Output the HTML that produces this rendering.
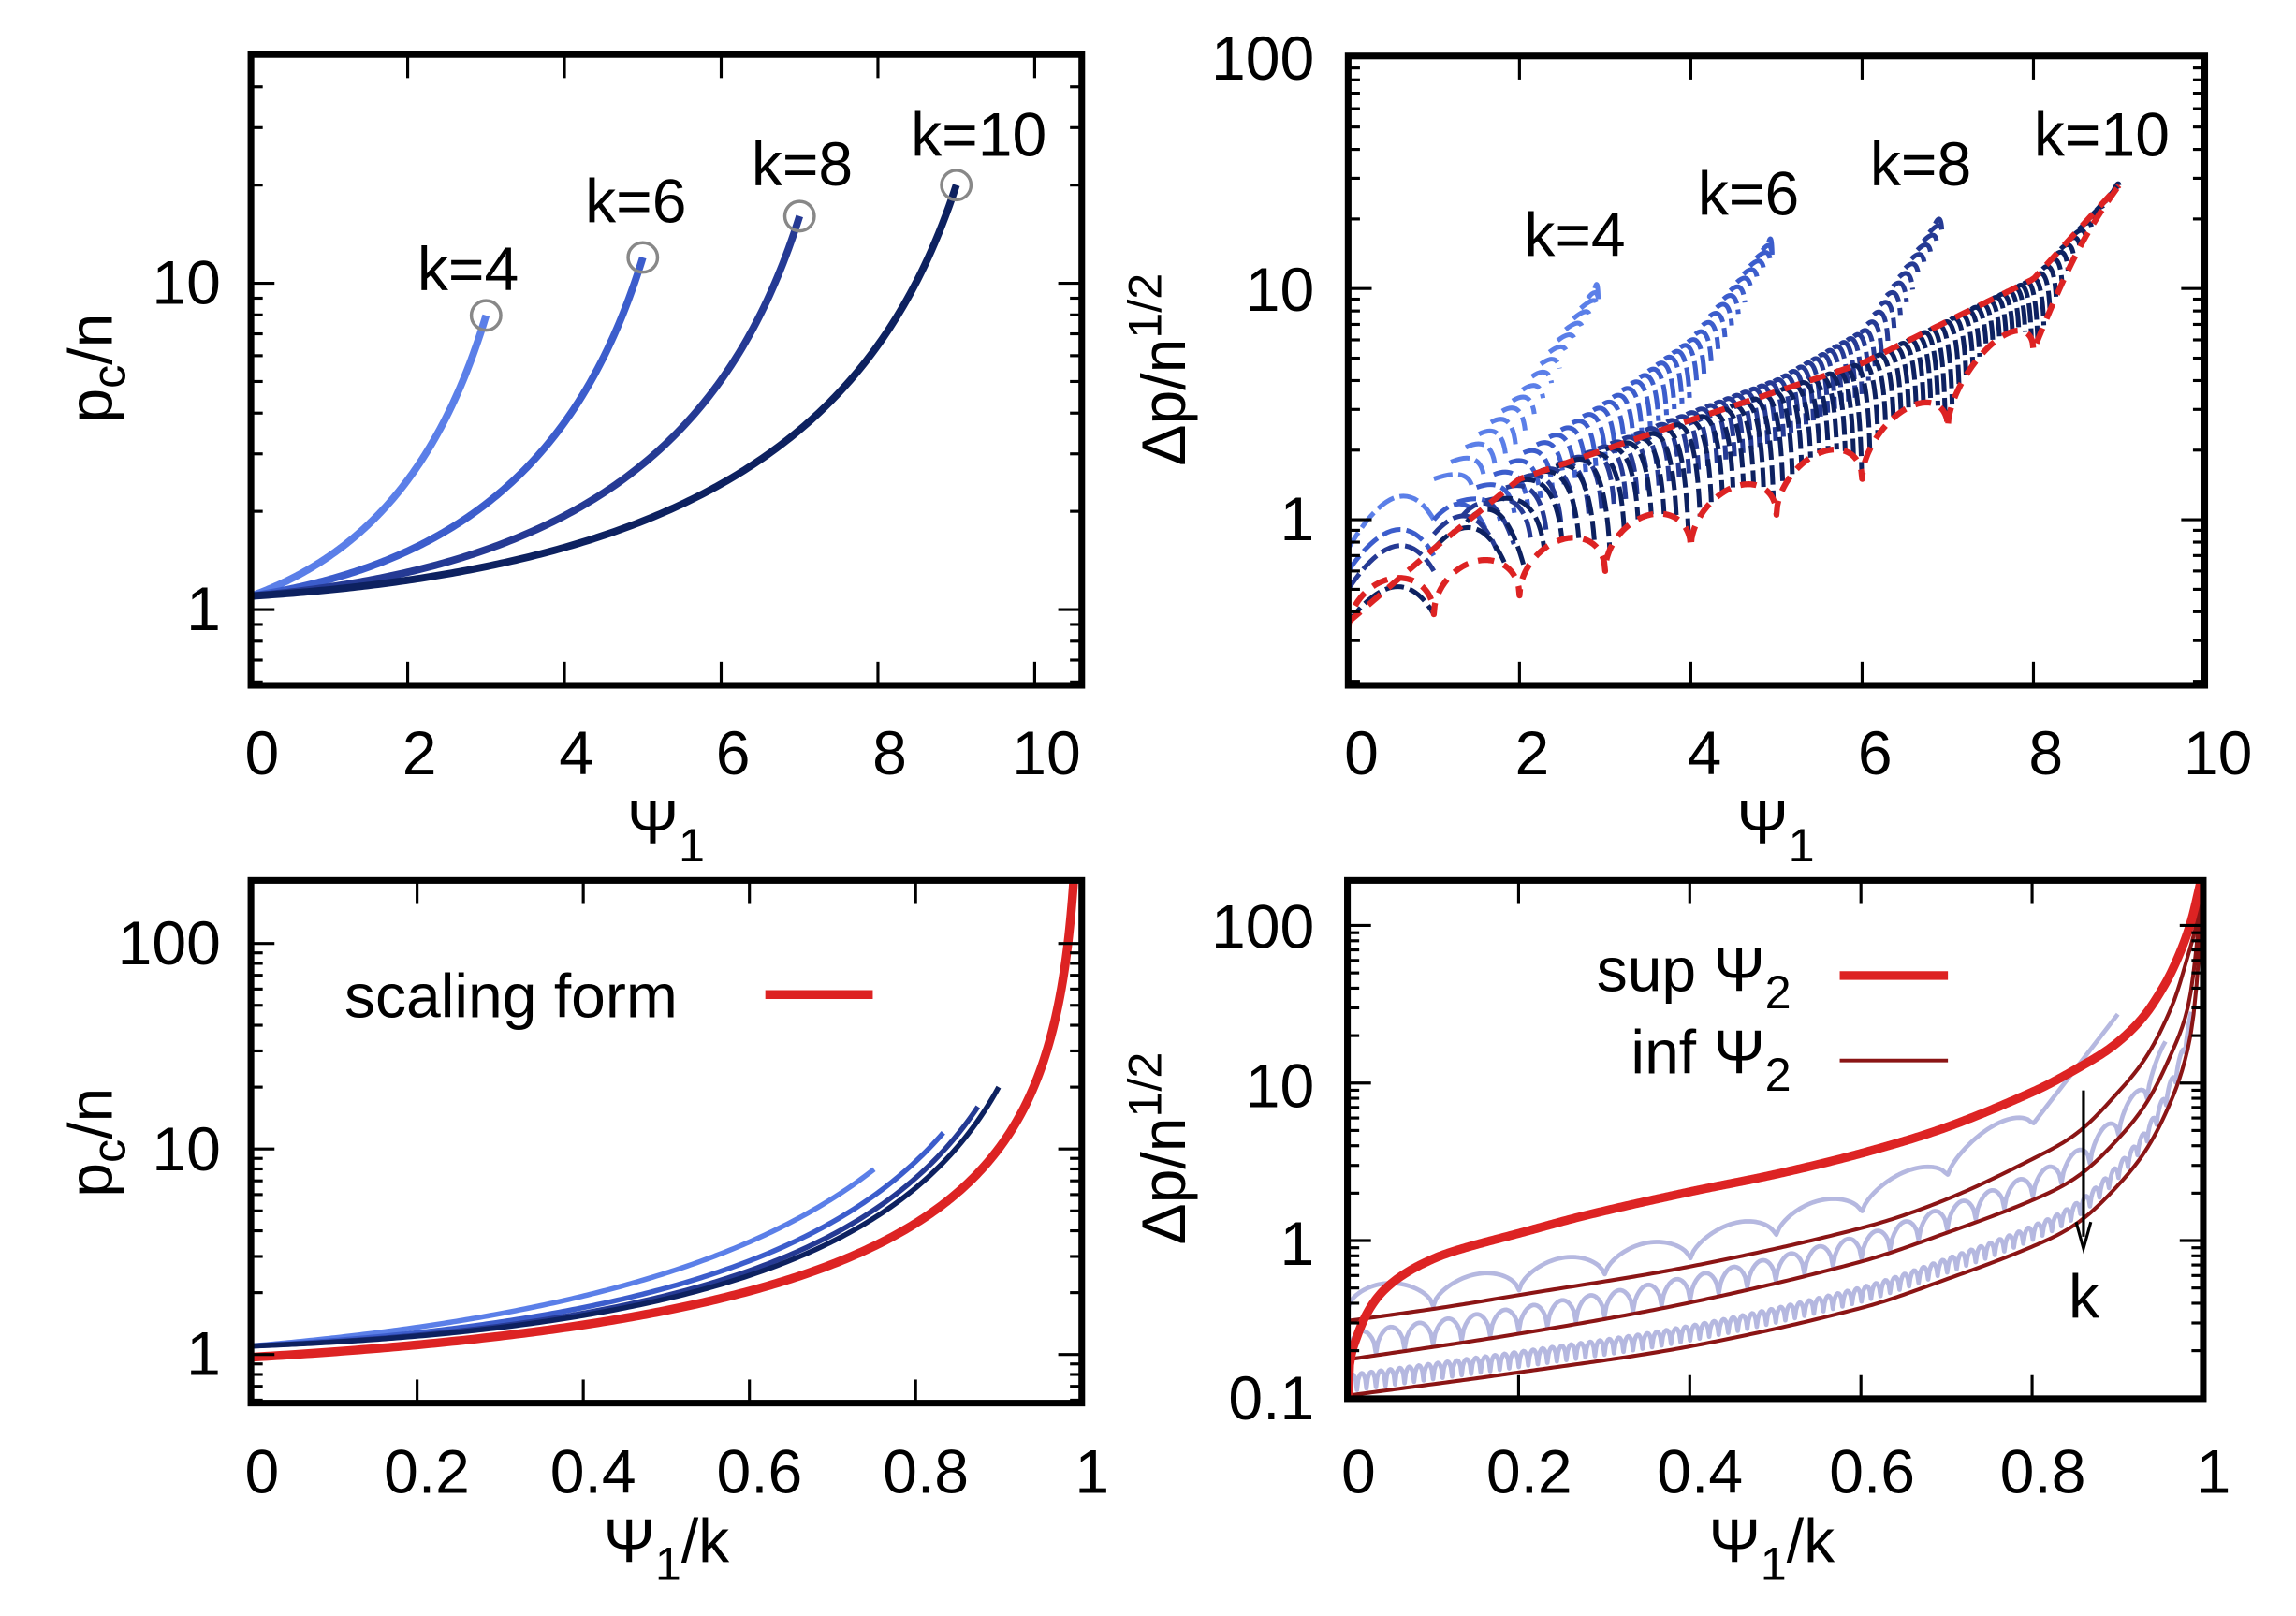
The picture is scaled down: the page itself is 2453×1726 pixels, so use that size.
<!DOCTYPE html>
<html><head><meta charset="utf-8"><style>
html,body{margin:0;padding:0;background:#fff;}
svg{display:block;}
text{font-family:"Liberation Sans",Arial,sans-serif;font-size:42px;fill:#000;}
</style></head><body>
<svg id="s" width="2453" height="1726" viewBox="0 0 1560 1097.6" preserveAspectRatio="none" xmlns="http://www.w3.org/2000/svg">
<defs>
<clipPath id="cTL"><rect x="170.5" y="37" width="564.5" height="428.5"/></clipPath>
<clipPath id="cTR"><rect x="916" y="38" width="582" height="427.5"/></clipPath>
<clipPath id="cBL"><rect x="170.5" y="598" width="564.5" height="355"/></clipPath>
<clipPath id="cBR"><rect x="915.5" y="598" width="581.5" height="352"/></clipPath>
</defs>
<g id="gTL" clip-path="url(#cTL)"></g>
<g id="gTR" clip-path="url(#cTR)"></g>
<g id="gBL" clip-path="url(#cBL)"></g>
<g id="gBR" clip-path="url(#cBR)"></g>
<g id="ax"></g>

<text x="318" y="197" text-anchor="middle">k=4</text>
<text x="432" y="151" text-anchor="middle">k=6</text>
<text x="545" y="126" text-anchor="middle">k=8</text>
<text x="665" y="106" text-anchor="middle">k=10</text>
<text x="150" y="206.5" text-anchor="end">10</text>
<text x="150" y="428" text-anchor="end">1</text>
<text x="178" y="526" text-anchor="middle">0</text>
<text x="285" y="526" text-anchor="middle">2</text>
<text x="391.5" y="526" text-anchor="middle">4</text>
<text x="498" y="526" text-anchor="middle">6</text>
<text x="604.5" y="526" text-anchor="middle">8</text>
<text x="711" y="526" text-anchor="middle">10</text>
<text x="426" y="573">Ψ<tspan dy="12" font-size="32">1</tspan></text>
<text transform="translate(76,250) rotate(-90)" text-anchor="middle">p<tspan dy="9" font-size="32">c</tspan><tspan dy="-9">/n</tspan></text>

<text x="1070" y="174" text-anchor="middle">k=4</text>
<text x="1188" y="146" text-anchor="middle">k=6</text>
<text x="1305" y="126" text-anchor="middle">k=8</text>
<text x="1428" y="106" text-anchor="middle">k=10</text>
<text x="893" y="54" text-anchor="end">100</text>
<text x="893" y="211" text-anchor="end">10</text>
<text x="893" y="367" text-anchor="end">1</text>
<text x="925" y="526" text-anchor="middle">0</text>
<text x="1041" y="526" text-anchor="middle">2</text>
<text x="1158" y="526" text-anchor="middle">4</text>
<text x="1274" y="526" text-anchor="middle">6</text>
<text x="1390" y="526" text-anchor="middle">8</text>
<text x="1507" y="526" text-anchor="middle">10</text>
<text x="1180" y="573">Ψ<tspan dy="12" font-size="32">1</tspan></text>
<text transform="translate(805,251) rotate(-90)" text-anchor="middle">Δp/n<tspan dy="-16" font-size="32">1/2</tspan></text>

<text x="150" y="655" text-anchor="end">100</text>
<text x="150" y="795" text-anchor="end">10</text>
<text x="150" y="934" text-anchor="end">1</text>
<text x="178" y="1014" text-anchor="middle">0</text>
<text x="290" y="1014" text-anchor="middle">0.2</text>
<text x="403" y="1014" text-anchor="middle">0.4</text>
<text x="516" y="1014" text-anchor="middle">0.6</text>
<text x="629" y="1014" text-anchor="middle">0.8</text>
<text x="742" y="1014" text-anchor="middle">1</text>
<text x="410" y="1061">Ψ<tspan dy="12" font-size="32">1</tspan><tspan dy="-12">/k</tspan></text>
<text transform="translate(76,776) rotate(-90)" text-anchor="middle">p<tspan dy="9" font-size="32">c</tspan><tspan dy="-9">/n</tspan></text>
<text x="234" y="691">scaling form</text>
<line x1="520" y1="675.5" x2="593" y2="675.5" stroke="#dd2323" stroke-width="6"/>

<text x="893" y="644" text-anchor="end">100</text>
<text x="893" y="752" text-anchor="end">10</text>
<text x="893" y="859" text-anchor="end">1</text>
<text x="893" y="964" text-anchor="end">0.1</text>
<text x="923" y="1014" text-anchor="middle">0</text>
<text x="1039" y="1014" text-anchor="middle">0.2</text>
<text x="1155" y="1014" text-anchor="middle">0.4</text>
<text x="1272" y="1014" text-anchor="middle">0.6</text>
<text x="1388" y="1014" text-anchor="middle">0.8</text>
<text x="1504" y="1014" text-anchor="middle">1</text>
<text x="1161" y="1061">Ψ<tspan dy="12" font-size="32">1</tspan><tspan dy="-12">/k</tspan></text>
<text transform="translate(805,780) rotate(-90)" text-anchor="middle">Δp/n<tspan dy="-16" font-size="32">1/2</tspan></text>
<text x="1217" y="673" text-anchor="end">sup Ψ<tspan dy="12" font-size="32">2</tspan></text>
<text x="1217" y="729" text-anchor="end">inf Ψ<tspan dy="12" font-size="32">2</tspan></text>
<line x1="1250" y1="662.6" x2="1323.5" y2="662.6" stroke="#dd2323" stroke-width="6"/>
<line x1="1250" y1="720.3" x2="1323.5" y2="720.3" stroke="#8b1515" stroke-width="2.5"/>
<text x="1416" y="895" text-anchor="middle">k</text>
<line x1="1415.6" y1="740.6" x2="1415.6" y2="840" stroke="#000" stroke-width="2"/>
<path d="M1410.6,830 L1415.6,848 L1420.6,830" fill="none" stroke="#000" stroke-width="2"/>
</svg>
<script>
var NS="http://www.w3.org/2000/svg";
function el(par,tag,a){var e=document.createElementNS(NS,tag);for(var k in a)e.setAttribute(k,a[k]);document.getElementById(par).appendChild(e);return e;}
function P(pts){return 'M'+pts.map(function(p){return p[0].toFixed(2)+','+p[1].toFixed(2);}).join('L');}
function line(par,pts,col,w,extra){var a={d:P(pts),fill:'none',stroke:col,'stroke-width':w,'stroke-linejoin':'round'};if(extra)for(var k in extra)a[k]=extra[k];return el(par,'path',a);}
var L10=Math.log10;
var COL={4:'#5b7fe8',6:'#3c5dcc',8:'#253a94',10:'#0d2160'};
var PAR={4:[2.17,-1.37],6:[2.05,-1.54],8:[1.95,-1.57],10:[1.846,-1.5]};
function f(x,k){var p=PAR[k];return Math.exp(0.095+p[0]*(-Math.log(1-x))+p[1]*x);}
[4,6,8,10].forEach(function(k){
 var pts=[];for(var i=0;i<=200;i++){var ps=(k-1)*i/200;pts.push([170.5+53.25*ps,414-221.6*L10(f(ps/k,k))]);}
 line('gTL',pts,COL[k],5);
});
[4,6,8,10].forEach(function(k){
 el('ax','circle',{cx:170.5+53.25*(k-1),cy:414-221.6*L10(f((k-1)/k,k)),r:10,fill:'none',stroke:'#888','stroke-width':2.2});
});
[4,6,8,10].forEach(function(k){
 var pts=[];for(var i=0;i<=200;i++){var x=(k-1)/k*i/200;pts.push([170.5+564.5*x,920-139.6*L10(f(x,k))]);}
 line('gBL',pts,COL[k],3.5);
});
(function(){var pts=[];for(var i=0;i<=400;i++){var x=0.9995*(1-Math.pow(1-i/400,2.5));var v=0.97*Math.exp(1.32*(-Math.log(1-x))-0.78*x);pts.push([170.5+564.5*x,920-139.6*L10(v)]);}line('gBL',pts,'#dd2323',6);})();
// TR
function TX(p){return 916+58.2*p;}function TY(v){return 353-157*v;}
function interp(pts,x){if(x<=pts[0][0])return L10(pts[0][1]);for(var i=1;i<pts.length;i++){if(x<=pts[i][0]){var t=(x-pts[i-1][0])/(pts[i][0]-pts[i-1][0]);return L10(pts[i-1][1])*(1-t)+L10(pts[i][1])*t;}}return L10(pts[pts.length-1][1]);}
var UP10=[[0,0.36],[1,0.75],[2,1.5],[4,2.7],[6,4.75],[8,11],[9,28]];
var CUSP=[0.33,0.39,0.47,0.6,0.76,1.05,1.5,2.5,5.4];
function low10(p){if(p>=8){var t=(p-8);return L10(5.4)*(1-t)+L10(28)*t+0.06*Math.sin(Math.PI*t);}var i=Math.floor(p),t=p-i;var a=L10(CUSP[i]),b=L10(CUSP[i+1]);return a*(1-t)+b*t+0.19*2*Math.sqrt(Math.max(0,t*(1-t)));}
var ENV={
 4:{U:[[0,0.75],[1,1.5],[2,3.5],[2.92,10.5]],L:[[0,0.6],[1,1.0],[2,2.2],[2.92,9]],end:2.92},
 6:{U:[[0,0.6],[1,1.0],[2,1.9],[3,3.2],[4,6],[4.95,16.5]],L:[[0,0.5],[1,0.7],[2,1.1],[3,1.8],[4,3.4],[4.95,14]],end:4.95},
 8:{U:[[0,0.5],[2,1.5],[4,2.9],[5,4],[6,6.5],[6.93,21]],L:[[0,0.45],[2,0.8],[4,1.6],[5,2.2],[6,3.5],[6.93,18]],end:6.93},
 10:{U:UP10,end:9}
};
[4,6,8,10].forEach(function(k){
 var E=ENV[k];var U=function(p){return interp(E.U,p);};var Lo=k==10?low10:function(p){return interp(E.L,p);};
 var s=0;
 while(s<E.end-0.02){
  var d=1/(1+1.6*s*10/k);var w=Math.min(1,2.2*d);
  var e=Math.min(s+w,E.end);
  var x0=TX(s),y0=TY(U(s)),x2=TX(e),y2=TY(Math.min(Lo(e),U(e)));
  var cx=TX(s+(e-s)*0.6),cy=Math.min(y0,y2)-Math.max(8,40*w);
  if(w<0.6){cx=TX(s+(e-s)*0.85);cy=y0-8;}
  el('gTR','path',{d:'M'+x0+','+y0+' Q'+cx+','+cy+' '+x2+','+y2,fill:'none',stroke:COL[k],'stroke-width':3.2,'stroke-dasharray':'13 4'});
  s+=d;
 }
});
(function(){var a=[],b=[];for(var i=0;i<=300;i++){var p=9*i/300;a.push([TX(p),TY(interp(UP10,p))]);}for(var i=0;i<=900;i++){var p=9*i/900;b.push([TX(p),TY(low10(p))]);}
 line('gTR',a,'#dd2323',4,{'stroke-dasharray':'11 7'});line('gTR',b,'#dd2323',4,{'stroke-dasharray':'11 7'});})();
// BR
function BX(zx){return (1226+zx/1.278)/1.5725;}function BY(zy){return (863+zy/1.817)/1.5725;}
function lin(pts,x){var n=pts.length;if(x<=pts[0][0])return pts[0][1];if(x>=pts[n-1][0])return pts[n-1][1];
 for(var i=1;i<n;i++){if(x<=pts[i][0]){var t=(x-pts[i-1][0])/(pts[i][0]-pts[i-1][0]);
  var p0=pts[Math.max(0,i-2)],p1=pts[i-1],p2=pts[i],p3=pts[Math.min(n-1,i+1)];
  var h=p2[0]-p1[0];
  var m1=(p2[1]-p0[1])/(p2[0]-p0[0])*h, m2=(p3[1]-p1[1])/(p3[0]-p1[0])*h;
  var t2=t*t,t3=t2*t;
  return (2*t3-3*t2+1)*p1[1]+(t3-2*t2+t)*m1+(-2*t3+3*t2)*p2[1]+(t3-t2)*m2;}}}
function smooth(pts,n){var o=[];for(var i=0;i<=n;i++){var x=pts[0][0]+(pts[pts.length-1][0]-pts[0][0])*i/n;o.push([BX(x),BY(lin(pts,x))]);}return o;}
var SUP=[[274,1145],[276,1080],[285,1030],[300,980],[320,940],[350,905],[390,875],[430,855],[508,825],[600,790],[740,745],[860,710],[975,670],[1090,620],[1210,550],[1270,505],[1320,460],[1360,405],[1390,340],[1410,280],[1425,220],[1437,150],[1445,100]];
var INF1=[[275,995],[400,970],[508,945],[740,890],[975,815],[1090,760],[1210,680],[1270,630],[1320,560],[1365,480],[1400,380],[1420,290],[1437,200],[1445,140]];
var INF2=[[275,1070],[508,1020],[740,960],[975,880],[1090,825],[1210,760],[1270,715],[1320,650],[1365,570],[1400,470],[1420,390],[1430,300],[1440,150]];
var INF3=[[275,1140],[508,1095],[740,1045],[975,970],[1090,915],[1210,850],[1270,805],[1320,740],[1365,660],[1400,560],[1420,470],[1430,380],[1440,200]];
function scallop(C,x0,x1,per,A,spp){var o=[];var n=Math.round((x1-x0)/per*spp);for(var i=0;i<=n;i++){var x=x0+(x1-x0)*i/n;var t=((x-x0)/per)%1;o.push([BX(x),BY(lin(C,x)-A*Math.sqrt(Math.max(0,Math.sin(Math.PI*t))))]);}return o;}
var CA=[[273,975],[390,970],[508,940],[624,910],[740,880],[858,835],[975,790],[1092,720],[1210,620]];
var pa=scallop(CA,273,1210,117,52,30);pa.push([BX(1325),BY(400)]);
line('gBR',pa,'#b5b8e0',3);
var CB=INF2.map(function(p){return [p[0],p[1]-3];});
line('gBR',scallop(CB,273,1390,39,48,14),'#b5b8e0',3);
var CC=INF3.map(function(p){return [p[0],p[1]-8];});
line('gBR',scallop(CC,273,1425,13,32,8),'#b5b8e0',3);
line('gBR',smooth(INF1,300),'#8b1515',2.6);
line('gBR',smooth(INF2,300),'#8b1515',2.6);
line('gBR',smooth(INF3,300),'#8b1515',2.6);
line('gBR',smooth(SUP,600),'#dd2323',6);
function frame(x0,y0,x1,y1){el('ax','rect',{x:x0,y:y0,width:x1-x0,height:y1-y0,fill:'none',stroke:'#000','stroke-width':4.5});}
function vt(x,y0,y1,len){el('ax','line',{x1:x,y1:y0,x2:x,y2:y0+len,stroke:'#000','stroke-width':2});el('ax','line',{x1:x,y1:y1,x2:x,y2:y1-len,stroke:'#000','stroke-width':2});}
function ht(y,x0,x1,len){el('ax','line',{x1:x0,y1:y,x2:x0+len,y2:y,stroke:'#000','stroke-width':2});el('ax','line',{x1:x1,y1:y,x2:x1-len,y2:y,stroke:'#000','stroke-width':2});}
function logticks(x0,x1,ytop,ybot,yf){
 for(var e=-2;e<=3;e++){for(var m=1;m<=9;m++){var v=m*Math.pow(10,e);var y=yf(L10(v));if(y<ytop+2||y>ybot-2)continue;ht(y,x0,x1,m==1?16:8);}}}
frame(170.5,37,735,465.5);
for(var i=2;i<=10;i+=2)vt(170.5+53.25*i,37,465.5,16);
logticks(170.5,735,37,465.5,function(l){return 414-221.6*l;});
frame(916,38,1498,465.5);
for(var i=2;i<=8;i+=2)vt(916+58.2*i,38,465.5,16);
logticks(916,1498,38,465.5,function(l){return 353-157*l;});
frame(170.5,598,735,953);
for(var i=1;i<=4;i++)vt(170.5+564.5*0.2*i,598,953,16);
logticks(170.5,735,598,953,function(l){return 920-139.6*l;});
frame(915.5,598,1497,950);
for(var i=1;i<=4;i++)vt(915.5+581.5*0.2*i,598,950,16);
logticks(915.5,1497,598,950,function(l){return 949.6-107*(l+1);});
</script>
</body></html>
